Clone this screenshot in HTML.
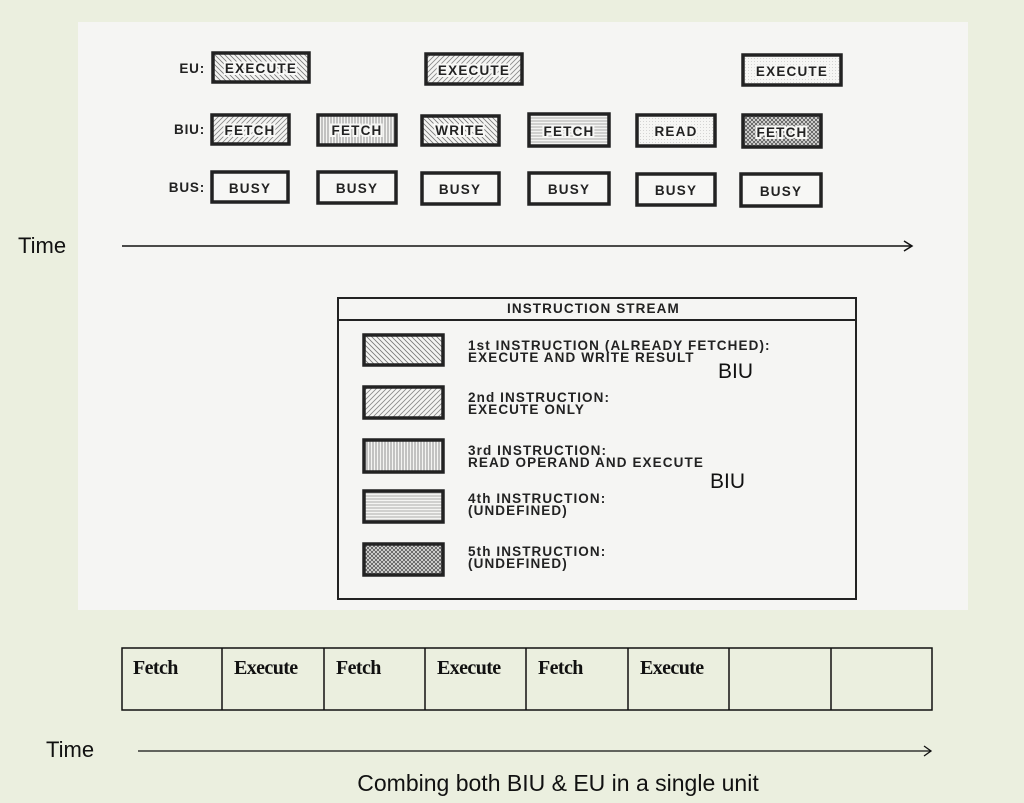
<!DOCTYPE html>
<html><head><meta charset="utf-8"><style>
html,body{margin:0;padding:0;background:#ebefdf;}
svg{display:block}
</style></head><body>
<svg width="1024" height="803" viewBox="0 0 1024 803" xmlns="http://www.w3.org/2000/svg">
<defs>
<pattern id="pb" width="5" height="5" patternUnits="userSpaceOnUse"><rect width="5" height="5" fill="#f4f4f2"/><path d="M-1,-1 L6,6 M-1,4 L1,6 M4,-1 L6,1" stroke="#777" stroke-width="0.8"/></pattern>
<pattern id="pf" width="5" height="5" patternUnits="userSpaceOnUse"><rect width="5" height="5" fill="#f4f4f2"/><path d="M-1,6 L6,-1 M-1,1 L1,-1 M4,6 L6,4" stroke="#888" stroke-width="0.8"/></pattern>
<pattern id="pv" width="3" height="3" patternUnits="userSpaceOnUse"><rect width="3" height="3" fill="#f4f4f2"/><path d="M1,0 V3" stroke="#777" stroke-width="0.8"/></pattern>
<pattern id="ph" width="3" height="3" patternUnits="userSpaceOnUse"><rect width="3" height="3" fill="#f4f4f2"/><path d="M0,1 H3" stroke="#999" stroke-width="0.8"/></pattern>
<pattern id="px" width="4" height="4" patternUnits="userSpaceOnUse"><rect width="4" height="4" fill="#e4e4e2"/><path d="M0,0 L4,4 M4,0 L0,4" stroke="#555" stroke-width="0.8"/></pattern>
<pattern id="pd" width="3" height="3" patternUnits="userSpaceOnUse"><rect width="3" height="3" fill="#f6f6f4"/><circle cx="1.5" cy="1.5" r="0.4" fill="#aaa"/></pattern>
</defs>
<rect x="78" y="22" width="890" height="588" fill="#f5f5f3"/>
<g font-family="Liberation Sans, sans-serif" font-weight="bold" font-size="13.5" fill="#222" letter-spacing="0.8">
<text x="205" y="73" text-anchor="end">EU:</text>
<text x="205" y="134" text-anchor="end">BIU:</text>
<text x="205" y="192" text-anchor="end">BUS:</text>
</g>
<g stroke="#222" stroke-width="3.5">
<rect x="213" y="53" width="96" height="29" fill="url(#pb)"/>
<rect x="426" y="54" width="96" height="30" fill="url(#pf)"/>
<rect x="743" y="55" width="98" height="30" fill="url(#pd)"/>
<rect x="212" y="115" width="77" height="29" fill="url(#pf)"/>
<rect x="318" y="115" width="78" height="30" fill="url(#pv)"/>
<rect x="422" y="116" width="77" height="29" fill="url(#pb)"/>
<rect x="529" y="114" width="80" height="32" fill="url(#ph)"/>
<rect x="637" y="115" width="78" height="31" fill="url(#pd)"/>
<rect x="743" y="115" width="78" height="32" fill="url(#px)"/>
<rect x="212" y="172" width="76" height="30" fill="#f7f7f5"/>
<rect x="318" y="172" width="78" height="31" fill="#f7f7f5"/>
<rect x="422" y="173" width="77" height="31" fill="#f7f7f5"/>
<rect x="529" y="173" width="80" height="31" fill="#f7f7f5"/>
<rect x="637" y="174" width="78" height="31" fill="#f7f7f5"/>
<rect x="741" y="174" width="80" height="32" fill="#f7f7f5"/>
</g>
<g font-family="Liberation Sans, sans-serif" font-weight="bold" font-size="13.5" fill="#222" text-anchor="middle" letter-spacing="1.2" stroke="#f7f7f5" stroke-width="4" paint-order="stroke">
<text x="261" y="73">EXECUTE</text>
<text x="474" y="75">EXECUTE</text>
<text x="792" y="76">EXECUTE</text>
<text x="250" y="135">FETCH</text>
<text x="357" y="135">FETCH</text>
<text x="460" y="135">WRITE</text>
<text x="569" y="136">FETCH</text>
<text x="676" y="136">READ</text>
<text x="782" y="137">FETCH</text>
<text x="250" y="193">BUSY</text>
<text x="357" y="193">BUSY</text>
<text x="460" y="194">BUSY</text>
<text x="569" y="194">BUSY</text>
<text x="676" y="195">BUSY</text>
<text x="781" y="196">BUSY</text>
</g>
<text x="18" y="253" font-family="Liberation Sans, sans-serif" font-size="22" fill="#111">Time</text>
<line x1="122" y1="246" x2="912" y2="246" stroke="#111" stroke-width="1.5"/>
<path d="M904,241 L912,246 L904,251" fill="none" stroke="#111" stroke-width="1.5"/>
<rect x="338" y="298" width="518" height="301" fill="none" stroke="#222" stroke-width="2"/>
<line x1="338" y1="320" x2="856" y2="320" stroke="#222" stroke-width="2"/>
<g stroke="#222" stroke-width="3.5">
<rect x="364" y="335" width="79" height="30" fill="url(#pb)"/>
<rect x="364" y="387" width="79" height="31" fill="url(#pf)"/>
<rect x="364" y="440" width="79" height="32" fill="url(#pv)"/>
<rect x="364" y="491" width="79" height="31" fill="url(#ph)"/>
<rect x="364" y="544" width="79" height="31" fill="url(#px)"/>
</g>
<g font-family="Liberation Sans, sans-serif" font-weight="bold" font-size="13.5" fill="#222" letter-spacing="1.1">
<text x="507" y="313">INSTRUCTION STREAM</text>
<text x="468" y="350">1st INSTRUCTION (ALREADY FETCHED):</text>
<text x="468" y="362">EXECUTE AND WRITE RESULT</text>
<text x="468" y="402">2nd INSTRUCTION:</text>
<text x="468" y="414">EXECUTE ONLY</text>
<text x="468" y="455">3rd INSTRUCTION:</text>
<text x="468" y="467">READ OPERAND AND EXECUTE</text>
<text x="468" y="503">4th INSTRUCTION:</text>
<text x="468" y="515">(UNDEFINED)</text>
<text x="468" y="556">5th INSTRUCTION:</text>
<text x="468" y="568">(UNDEFINED)</text>
</g>
<g font-family="Liberation Sans, sans-serif" font-size="21" fill="#111">
<text x="718" y="378">BIU</text>
<text x="710" y="488">BIU</text>
</g>
<g stroke="#111" stroke-width="1.5" fill="none">
<rect x="122" y="648" width="810" height="62"/>
<line x1="222" y1="648" x2="222" y2="710"/>
<line x1="324" y1="648" x2="324" y2="710"/>
<line x1="425" y1="648" x2="425" y2="710"/>
<line x1="526" y1="648" x2="526" y2="710"/>
<line x1="628" y1="648" x2="628" y2="710"/>
<line x1="729" y1="648" x2="729" y2="710"/>
<line x1="831" y1="648" x2="831" y2="710"/>
</g>
<g font-family="Liberation Serif, serif" font-weight="bold" font-size="20" fill="#111" letter-spacing="-0.6">
<text x="133" y="674">Fetch</text>
<text x="234" y="674">Execute</text>
<text x="336" y="674">Fetch</text>
<text x="437" y="674">Execute</text>
<text x="538" y="674">Fetch</text>
<text x="640" y="674">Execute</text>
</g>
<text x="46" y="757" font-family="Liberation Sans, sans-serif" font-size="22" fill="#111">Time</text>
<line x1="138" y1="751" x2="931" y2="751" stroke="#111" stroke-width="1.3"/>
<path d="M924,746 L931,751 L924,756" fill="none" stroke="#111" stroke-width="1.3"/>
<text x="558" y="791" text-anchor="middle" font-family="Liberation Sans, sans-serif" font-size="23" fill="#111">Combing both BIU &amp; EU in a single unit</text>
</svg>
</body></html>
